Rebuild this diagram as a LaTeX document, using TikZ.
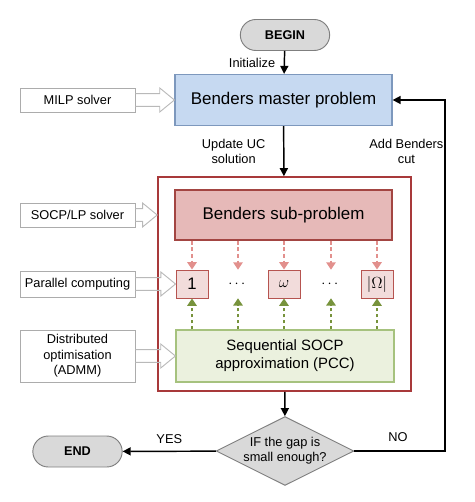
\documentclass[tikz,border=0pt]{standalone}
\usepackage{amsmath}
\usepackage{fontspec}
\setmainfont{Liberation Sans}
\usepackage{tikz}
\usetikzlibrary{shapes, arrows.meta, calc}

\definecolor{masterfill}{HTML}{C6D9F1}
\definecolor{masterline}{HTML}{7D98BD}
\definecolor{subfill}{HTML}{E6B9B8}
\definecolor{subline}{HTML}{A34542}
\definecolor{scenfill}{HTML}{F2DCDB}
\definecolor{scenline}{HTML}{B65450}
\definecolor{redline}{HTML}{A8393A}
\definecolor{reddash}{HTML}{E2908D}
\definecolor{pccfill}{HTML}{EBF1DE}
\definecolor{pccline}{HTML}{A6C27E}
\definecolor{greendash}{HTML}{77933C}
\definecolor{termfill}{HTML}{D9D9D9}
\definecolor{termline}{HTML}{7F7F7F}

\tikzset{
	big/.style={rectangle, draw, line width=0.9pt, font=\fontsize{12.7}{14}\selectfont},
	tool/.style={rectangle, draw=gray!65, line width=0.7pt, minimum width=86.25pt, align=center, font=\fontsize{9.6}{11.5}\selectfont},
	term/.style={rectangle, rounded corners=11.6pt, draw=termline, fill=termfill, line width=0.7pt, minimum width=67pt, minimum height=23.25pt, font=\fontsize{9.5}{11}\selectfont\bfseries},
	scen/.style={rectangle, draw=scenline, fill=scenfill, line width=0.7pt, minimum width=24pt, minimum height=21pt, inner sep=0pt, font=\fontsize{12.5}{14}\selectfont},
	gap/.style={rectangle, minimum width=24pt, minimum height=21pt, inner sep=0pt, font=\fontsize{11}{13}\selectfont},
	lbl/.style={font=\fontsize{9.6}{11.5}\selectfont, align=center},
	arr/.style={line width=1.1pt, -{Triangle[width=6pt,length=6pt]}},
	redarr/.style={reddash, line width=1.2pt, dash pattern=on 3pt off 2pt, -{Triangle[width=7pt,length=5.5pt]}},
	greenarr/.style={greendash, line width=1.6pt, dash pattern=on 2.5pt off 2pt, -{Triangle[width=7pt,length=5.5pt]}},
	hollow/.style={draw=gray!55, line width=0.7pt, to path={
		($(\tikztostart)+(0,4.8pt)$) -- ($(\tikztotarget)+(-11pt,4.8pt)$) -- ($(\tikztotarget)+(-11pt,9pt)$)
		-- (\tikztotarget) -- ($(\tikztotarget)+(-11pt,-9pt)$) -- ($(\tikztotarget)+(-11pt,-4.8pt)$) -- ($(\tikztostart)+(0,-4.8pt)$)}}
}

\begin{document}
\begin{tikzpicture}[x=0.75pt, y=-0.75pt]
	\useasboundingbox (0,0) rectangle (474,502);
	% main chain
	\node at (285,35) [term] (begin) {BEGIN};
	\node at (283.5,100) [big, draw=masterline, fill=masterfill, minimum width=162.75pt, minimum height=38.25pt] (master) {Benders master problem};
	\node at (284.5,284) [rectangle, draw=redline, line width=1.2pt, minimum width=189.75pt, minimum height=160.5pt] (outer) {};
	\node at (283.5,215) [big, draw=subline, fill=subfill, minimum width=162.75pt, minimum height=37.5pt] (sub) {Benders sub-problem};
	\node at (192,284) [scen] (w1) {1};
	\node at (238,284) [gap] (d1) {$\cdots$};
	\node at (284,284) [scen] (wo) {$\omega$};
	\node at (331,284) [gap] (d2) {$\cdots$};
	\node at (377,284) [scen] (wO) {$|\Omega|$};
	\node at (285,356) [rectangle, draw=pccline, fill=pccfill, line width=0.9pt, minimum width=163.5pt, minimum height=39pt, align=center, font=\fontsize{11.2}{13.5}\selectfont] (pcc) {Sequential SOCP\\approximation (PCC)};
	\node at (285,451) [diamond, aspect=2, draw=termline, fill=termfill, line width=0.7pt, inner sep=0pt, minimum width=101pt, minimum height=46.5pt, align=center, font=\fontsize{9.6}{11.5}\selectfont] (check) {IF the gap is\\small enough?};
	\node at (77.5,451.5) [term] (end) {END};
	% tools on the left
	\node at (77.5,100) [tool, minimum height=18pt] (milp) {MILP solver};
	\node at (77.5,215) [tool, minimum height=18pt] (socp) {SOCP/LP solver};
	\node at (77.5,284) [tool, minimum height=19.5pt] (par) {Parallel computing};
	\node at (77.5,356) [tool, minimum height=39pt] (admm) {Distributed\\optimisation\\(ADMM)};
	\coordinate (socpin) at (outer.west |- socp.east);
	\draw[hollow] (milp.east) to (master.west);
	\draw[hollow] (socp.east) to (socpin);
	\draw[hollow] (par.east) to (w1.west);
	\draw[hollow] (admm.east) to (pcc.west);
	% flow
	\draw[arr] (begin) -- (master) node[lbl, left, midway, xshift=-3pt] {Initialize};
	\draw[arr] (master) -- (outer) node[lbl, left, midway, xshift=-10pt] {Update UC\\solution};
	\draw[arr] (outer) -- (check);
	\draw[arr] (check) -- (end) node[lbl, above, midway, yshift=2pt] {YES};
	\coordinate (back) at (445,100);
	\draw[arr] (check.east) -| (back) -- (master.east);
	\node at (398,437) [lbl] (no) {NO};
	\node at (445,151.5) [lbl, left, inner sep=1pt] (cut) {Add Benders\\cut};
	% scenarios
	\foreach \s in {w1,d1,wo,d2,wO} {
		\draw[redarr] (sub.south -| \s.north) -- (\s.north);
		\draw[greenarr] (pcc.north -| \s.south) -- (\s.south);
	}
\end{tikzpicture}
\end{document}
